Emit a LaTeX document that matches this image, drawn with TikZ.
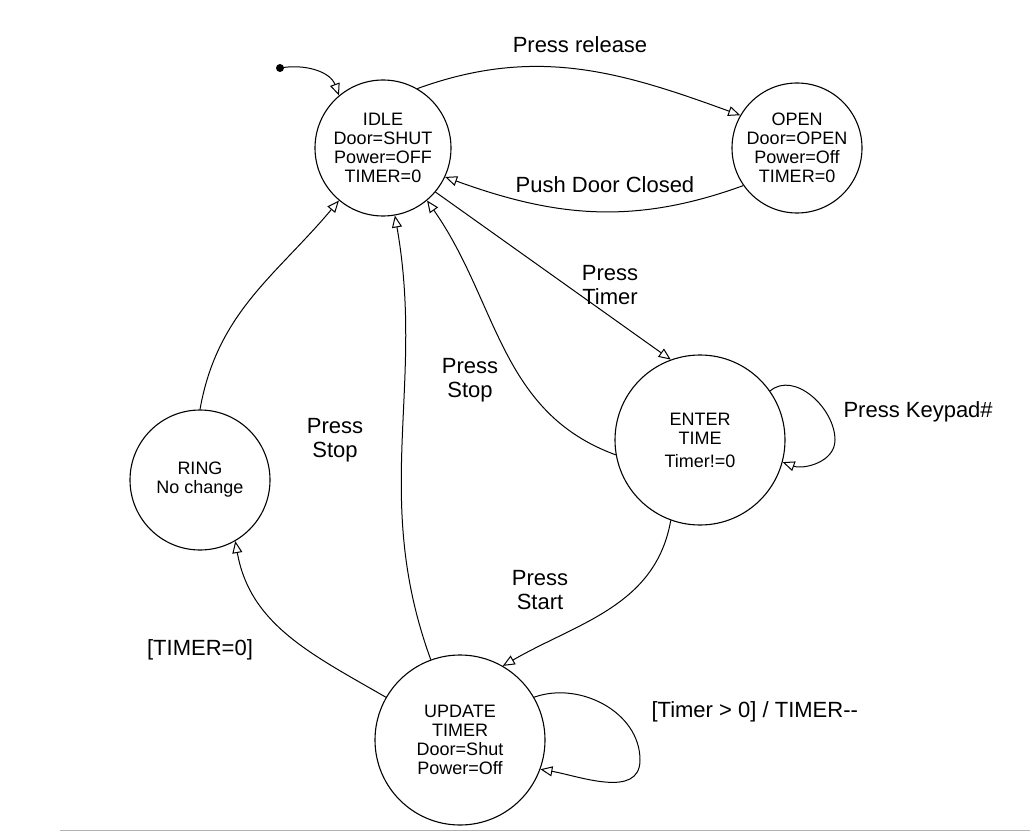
\documentclass[tikz,border=0pt]{standalone}
\usepackage{fontspec}
\setmainfont{Liberation Sans}
\usetikzlibrary{arrows.meta}
\begin{document}
\begin{tikzpicture}[x=1pt,y=-1pt,
  st/.style={draw,circle,line width=1.1pt,align=center,font=\fontsize{18}{19}\selectfont,inner sep=0pt},
  tr/.style={line width=1pt,-{Triangle[open,length=12pt,width=10pt]}},
  lb/.style={font=\fontsize{22}{24}\selectfont,align=center}]
\useasboundingbox (0,0) rectangle (1030,834);
\draw[gray!60,line width=1pt] (60,830) -- (1030,830);
\fill (280,68) circle (4) coordinate (init);
\node[st,minimum size=136pt] (idle) at (383,148) {IDLE\\Door=SHUT\\Power=OFF\\TIMER=0};
\node[st,minimum size=130pt] (open) at (797,148) {OPEN\\Door=OPEN\\Power=Off\\TIMER=0};
\node[st,minimum size=170pt] (enter) at (700,440) {ENTER\\TIME\\[4pt]Timer!=0};
\node[st,minimum size=140pt] (ring) at (200,480) {RING\\No change};
\node[st,minimum size=170pt] (upd) at (460,740) {UPDATE\\TIMER\\Door=Shut\\Power=Off};
\draw[tr] (init) to[out=10,in=110] (idle.130);
\draw[tr] (idle.60) to[out=20,in=160] (open.150);
\node[lb] (l1) at (580,45) {Press release};
\draw[tr] (open.215) to[out=200,in=-20] (idle.-25);
\node[lb] (l2) at (605,185) {Push Door Closed};
\draw[tr] (idle.-40) -- (enter.110);
\node[lb] (l3) at (610,285) {Press\\Timer};
\draw[tr] (enter.190) to[out=160,in=-55] (idle.-50);
\node[lb] (l4) at (470,380) {Press\\Stop};
\draw[tr] (enter.35) to[out=40,in=90] (835,440) to[out=-90,in=-20] (enter.-15);
\node[lb,anchor=west] (kp) at (840,412) {Press Keypad\#};
\draw[tr] (enter.-110) to[out=-100,in=30] (upd.60);
\node[lb] (l5) at (540,590) {Press\\Start};
\draw[tr] (upd.110) to[out=110,in=-80] (idle.-80);
\node[lb] (l6) at (335,440) {Press\\Stop};
\draw[tr] (upd.150) to[out=150,in=-80] (ring.-60);
\node[lb] (l7) at (200,650) {[TIMER=0]};
\draw[tr] (ring.90) to[out=80,in=-130] (idle.-130);
\draw[tr] (upd.30) to[out=20,in=90] (640,760) to[out=-90,in=-10] (upd.-20);
\node[lb,anchor=west] (tl) at (648,712) {[Timer > 0] / TIMER-{}-};
\end{tikzpicture}
\end{document}
